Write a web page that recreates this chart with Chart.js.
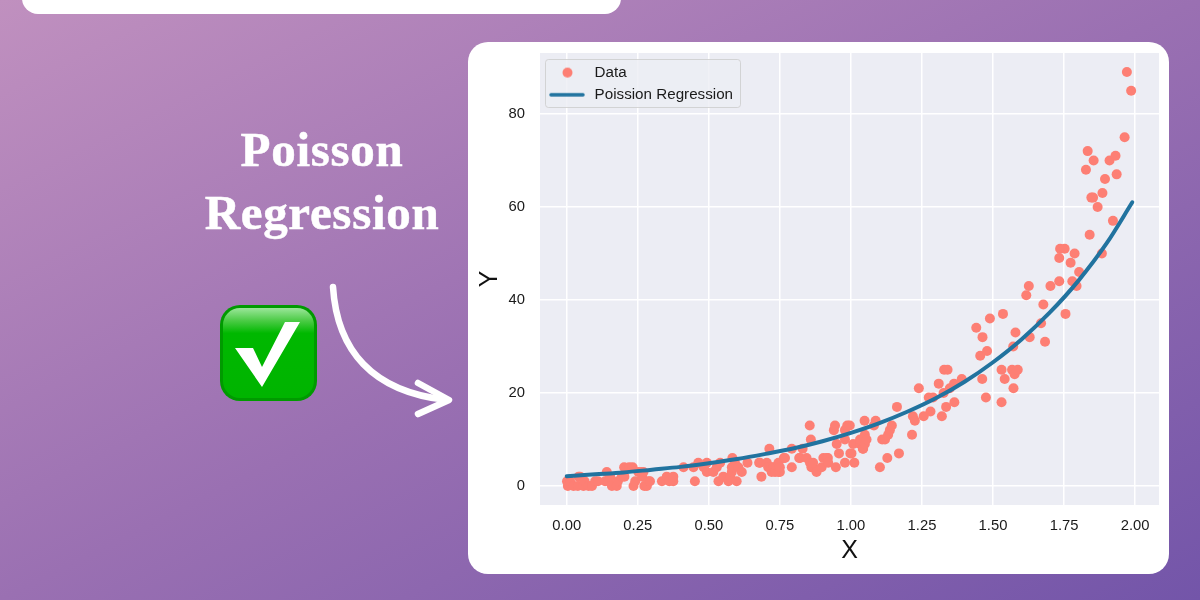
<!DOCTYPE html>
<html lang="en">
<head>
<meta charset="UTF-8">
<title>Poisson Regression</title>
<script src="https://cdn.jsdelivr.net/npm/chart.js"></script>
<style>
    html, body { margin: 0; padding: 0; }
    body { width: 1200px; height: 600px; overflow: hidden; position: relative;
           background: linear-gradient(to bottom right, #c090bf 0%, #9a70b2 50%, #7355a9 100%); }
    #pill { position: absolute; left: 22px; top: -40px; width: 599px; height: 53.5px; background: #fff; border-radius: 16px; }
    #card { position: absolute; left: 468px; top: 42px; width: 701px; height: 532px; background: #fff; border-radius: 20px; }
    #heading { position: absolute; left: 172px; top: 118px; width: 300px; text-align: center; color: #fff;
               font: bold 49px/63px "Liberation Serif", serif; letter-spacing: 0.7px; -webkit-text-stroke: 0.5px #fff; }
    svg { position: absolute; left: 0; top: 0; }
    canvas { position: absolute; left: 0; top: 0; }
</style>
</head>
<body>
<div id="pill"></div>
<div id="card"></div>
<div id="heading">Poisson<br>Regression</div>
<svg width="1200" height="600" viewBox="0 0 1200 600">
    <defs>
        <linearGradient id="shine" x1="0" y1="0" x2="0" y2="1">
            <stop offset="0" stop-color="#9be69a"/>
            <stop offset="0.14" stop-color="#4ccb46"/>
            <stop offset="0.28" stop-color="#00b800"/>
            <stop offset="1" stop-color="#00b400"/>
        </linearGradient>
    </defs>
    <rect x="220" y="305" width="97" height="96" rx="20" fill="#009a00"/>
    <rect x="223" y="308" width="91" height="90" rx="17" fill="url(#shine)"/>
    <path d="M235 348 L253 348 L262 367 L285 322 L300 322 L262 387 Z" fill="#fff"/>
    <path d="M333 287 C337 350 372 392 447 400" fill="none" stroke="#fff" stroke-width="6.5" stroke-linecap="round"/>
    <path d="M418 383 L449 400 L418 414" fill="none" stroke="#fff" stroke-width="6.5" stroke-linecap="round" stroke-linejoin="round"/>
</svg>
<canvas id="poissonChart" width="1200" height="600"></canvas>

<script>
    const dataX = [
        0.001, 0.004, 0.012, 0.024, 0.039, 0.042, 0.047, 0.059, 0.063, 0.077, 0.089, 0.100, 0.110, 0.135, 0.141, 0.147,
        0.153, 0.159, 0.176, 0.180, 0.194, 0.203, 0.202, 0.220, 0.232, 0.235, 0.241, 0.252, 0.262, 0.266, 0.270, 0.273,
        0.282, 0.288, 0.293, 0.335, 0.352, 0.361, 0.375, 0.375, 0.411, 0.446, 0.451, 0.463, 0.482, 0.493, 0.493, 0.516,
        0.528, 0.534, 0.540, 0.551, 0.569, 0.575, 0.581, 0.581, 0.583, 0.592, 0.598, 0.604, 0.616, 0.636, 0.677, 0.685,
        0.680, 0.704, 0.709, 0.713, 0.721, 0.721, 0.727, 0.733, 0.739, 0.745, 0.745, 0.750, 0.750, 0.764, 0.768, 0.792,
        0.792, 0.818, 0.821, 0.830, 0.844, 0.855, 0.856, 0.859, 0.861, 0.867, 0.867, 0.879, 0.897, 0.903, 0.915, 0.919,
        0.920, 0.940, 0.944, 0.947, 0.950, 0.958, 0.979, 0.979, 0.979, 0.987, 0.996, 0.998, 1.002, 1.008, 1.012, 1.032,
        1.032, 1.042, 1.043, 1.048, 1.049, 1.049, 1.055, 1.081, 1.087, 1.102, 1.110, 1.120, 1.128, 1.131, 1.137, 1.144,
        1.162, 1.169, 1.215, 1.218, 1.225, 1.239, 1.256, 1.274, 1.280, 1.289, 1.309, 1.320, 1.326, 1.328, 1.335, 1.340,
        1.348, 1.363, 1.364, 1.390, 1.441, 1.455, 1.462, 1.463, 1.475, 1.479, 1.489, 1.530, 1.530, 1.535, 1.541, 1.567,
        1.571, 1.572, 1.576, 1.579, 1.587, 1.617, 1.626, 1.629, 1.669, 1.677, 1.683, 1.702, 1.733, 1.733, 1.736, 1.752,
        1.755, 1.773, 1.779, 1.787, 1.794, 1.803, 1.827, 1.833, 1.840, 1.846, 1.852, 1.854, 1.868, 1.883, 1.885, 1.894,
        1.910, 1.922, 1.931, 1.935, 1.963, 1.971, 1.986
    ];
    const dataY = [
        1, 0, 1, 0, 0, 2, 2, 0, 1, 0, 0, 1, 1, 1, 3, 1,
        2, 0, 0, 1, 2, 2, 4, 4, 4, 0, 1, 3, 3, 2, 3, 0,
        0, 1, 1, 1, 2, 1, 1, 2, 4, 4, 1, 5, 4, 3, 5, 3,
        4, 1, 5, 2, 1, 2, 3, 4, 6, 5, 1, 4, 3, 5, 5, 2,
        5, 5, 4, 8, 3, 4, 4, 3, 4, 3, 5, 3, 4, 6, 6, 4,
        8, 6, 6, 8, 6, 13, 5, 10, 4, 4, 5, 3, 4, 6, 6, 6,
        5, 12, 13, 4, 9, 7, 5, 10, 12, 13, 13, 7, 7, 9, 5, 9,
        10, 8, 8, 14, 11, 9, 10, 13, 14, 4, 10, 10, 6, 11, 12, 13,
        17, 7, 11, 15, 14, 21, 15, 19, 16, 19, 22, 15, 20, 25, 17, 25,
        21, 22, 18, 23, 34, 28, 23, 32, 19, 29, 36, 25, 18, 37, 23, 25,
        30, 21, 24, 33, 25, 41, 43, 32, 35, 39, 31, 43, 49, 44, 51, 51,
        37, 48, 44, 50, 43, 46, 68, 72, 54, 62, 62, 70, 60, 50, 63, 66,
        70, 57, 71, 67, 75, 89, 85
    ];
    const curveX = [0, 0.1, 0.2, 0.3, 0.4, 0.5, 0.6, 0.7, 0.8, 0.9, 1.0, 1.1, 1.2, 1.3, 1.4, 1.5, 1.6, 1.7, 1.8, 1.9, 1.99];
    const curveY = [2.1, 2.5, 2.9, 3.5, 4.1, 4.9, 5.8, 6.9, 8.1, 9.6, 11.4, 13.5, 16, 18.9, 22.4, 26.6, 31.5, 37.3, 44.1, 52.2, 61];
    const xTicks = [0, 0.25, 0.5, 0.75, 1, 1.25, 1.5, 1.75, 2];
    const yTicks = [0, 20, 40, 60, 80];

    const salmon = '#fd7f74';
    const blue = '#21739f';

    // legend markers as little canvases, so both keys sit in the same wide slot
    function keyCanvas(draw) {
        const c = document.createElement('canvas');
        c.width = 40; c.height = 12;
        draw(c.getContext('2d'));
        return c;
    }
    const dotKey = keyCanvas(g => {
        g.fillStyle = salmon;
        g.beginPath(); g.arc(22.5, 6, 5, 0, Math.PI * 2); g.fill();
    });
    const lineKey = keyCanvas(g => {
        g.strokeStyle = blue; g.lineWidth = 3.5; g.lineCap = 'round';
        g.beginPath(); g.moveTo(6, 6); g.lineTo(38, 6); g.stroke();
    });

    const plotFrame = {
        id: 'plotFrame',
        beforeDraw(chart) {
            const { ctx, chartArea: a } = chart;
            ctx.save();
            ctx.fillStyle = '#ecedf4';
            ctx.fillRect(a.left, a.top, a.right - a.left, a.bottom - a.top);
            ctx.restore();
        },
        afterLayout(chart) {
            const legend = chart.legend;
            legend.left = chart.chartArea.left - 4;
            legend.top = chart.chartArea.top + 5;
            if (legend.drawBase) return;
            // box goes between grid and legend text
            legend.drawBase = legend.draw;
            legend.draw = function () {
                const { ctx } = chart;
                ctx.save();
                ctx.fillStyle = 'rgba(236,237,244,0.8)';
                ctx.strokeStyle = 'rgba(204,204,204,0.8)';
                ctx.lineWidth = 1;
                ctx.beginPath();
                ctx.roundRect(545.5, 59.5, 195, 48, 3);
                ctx.fill();
                ctx.stroke();
                ctx.restore();
                legend.drawBase();
            };
        }
    };

    const chart = new Chart(document.getElementById('poissonChart'), {
        type: 'scatter',
        data: {
            datasets: [{
                label: 'Data',
                data: dataX.map((x, i) => ({ x: x, y: dataY[i] })),
                backgroundColor: salmon,
                borderWidth: 0,
                pointRadius: 5,
                pointStyle: 'circle',
                order: 2
            }, {
                label: 'Poission Regression',
                type: 'line',
                data: curveX.map((x, i) => ({ x: x, y: curveY[i] })),
                borderColor: blue,
                borderWidth: 4,
                borderCapStyle: 'round',
                cubicInterpolationMode: 'monotone',
                pointRadius: 0,
                fill: false,
                order: 1
            }]
        },
        options: {
            responsive: false,
            animation: false,
            layout: { padding: { left: 475, right: 41, top: 53, bottom: 34 } },
            plugins: {
                tooltip: { enabled: false },
                legend: {
                    position: 'chartArea',
                    align: 'start',
                    labels: {
                        usePointStyle: true,
                        pointStyleWidth: 44,
                        padding: 7,
                        color: '#1a1a1a',
                        font: { family: 'Liberation Sans', size: 15.2 },
                        generateLabels: () => [
                            { text: 'Data', pointStyle: dotKey, fontColor: '#1a1a1a', lineWidth: 0, datasetIndex: 0 },
                            { text: 'Poission Regression', pointStyle: lineKey, fontColor: '#1a1a1a', lineWidth: 0, datasetIndex: 1 }
                        ]
                    }
                }
            },
            scales: {
                x: {
                    type: 'linear',
                    min: -0.094,
                    max: 2.084,
                    afterBuildTicks: axis => { axis.ticks = xTicks.map(v => ({ value: v })); },
                    afterFit: axis => { axis.height = 61; },
                    grid: { color: '#ffffff', lineWidth: 1.5, drawTicks: false },
                    border: { display: false },
                    ticks: {
                        padding: 12,
                        maxRotation: 0,
                        color: '#1a1a1a',
                        font: { family: 'Liberation Sans', size: 14.8 },
                        callback: v => v.toFixed(2)
                    },
                    title: { display: true, text: 'X', color: '#111111', font: { family: 'Liberation Sans', size: 25 }, padding: { top: 3, bottom: 0 } }
                },
                y: {
                    min: -4.1,
                    max: 93.1,
                    afterBuildTicks: axis => { axis.ticks = yTicks.map(v => ({ value: v })); },
                    afterFit: axis => { axis.width = 65; },
                    grid: { color: '#ffffff', lineWidth: 1.5, drawTicks: false },
                    border: { display: false },
                    ticks: {
                        padding: 15,
                        color: '#1a1a1a',
                        font: { family: 'Liberation Sans', size: 14.8 }
                    },
                    title: { display: true, text: 'Y', color: '#111111', font: { family: 'Liberation Sans', size: 25 }, padding: 0 }
                }
            }
        },
        plugins: [plotFrame]
    });
</script>
</body>
</html>
